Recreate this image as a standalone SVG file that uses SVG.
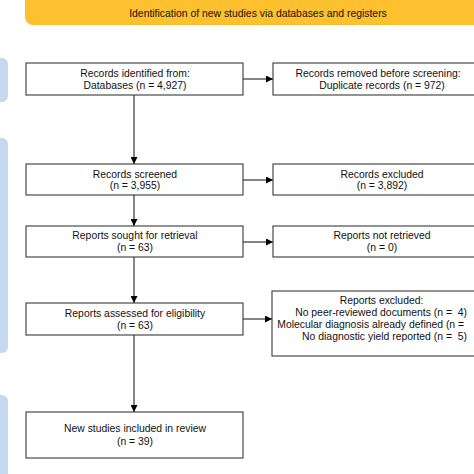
<svg xmlns="http://www.w3.org/2000/svg" width="474" height="474" viewBox="0 0 474 474">
<defs>
<style>
.box{fill:#fff;stroke:#3a3a3a;stroke-width:1.1}
.t{font-family:"Liberation Sans",Arial,sans-serif;font-size:10.4px;fill:#111;text-anchor:middle}
.te{font-family:"Liberation Sans",Arial,sans-serif;font-size:10.4px;fill:#111;text-anchor:end}
.c{stroke:#222;stroke-width:1.1;fill:none;marker-end:url(#ah)}
.side{fill:#c5d9f1}
</style>
<marker id="ah" viewBox="0 0 10 10" refX="10" refY="5" markerWidth="8" markerHeight="7" markerUnits="userSpaceOnUse" orient="auto">
<path d="M0,0 L10,5 L0,10 z" fill="#000"/>
</marker>
</defs>
<rect width="474" height="474" fill="#fff"/>
<g id="banner">
<rect x="25" y="-10" width="470" height="35" rx="8" fill="#fdc02e"/>
<text class="t" x="258" y="17">Identification of new studies via databases and registers</text>
</g>
<g id="sidebars">
<rect class="side" x="-10" y="58" width="18" height="44" rx="6"/>
<rect class="side" x="-10" y="138" width="18" height="215" rx="6"/>
<rect class="side" x="-10" y="395" width="18" height="89" rx="6"/>
</g>
<g id="connectors">
<line class="c" x1="134" y1="95" x2="134" y2="164"/>
<line class="c" x1="134" y1="195" x2="134" y2="226"/>
<line class="c" x1="134" y1="257" x2="134" y2="303"/>
<line class="c" x1="134" y1="335" x2="134" y2="412"/>
<line class="c" x1="243" y1="79" x2="273" y2="79"/>
<line class="c" x1="243" y1="180" x2="273" y2="180"/>
<line class="c" x1="243" y1="242" x2="273" y2="242"/>
<line class="c" x1="243" y1="319" x2="272" y2="319"/>
</g>
<g id="identified">
<rect class="box" x="26" y="63" width="217" height="32"/>
<text class="t" x="135" y="77">Records identified from:</text>
<text class="t" x="135" y="89">Databases (n = 4,927)</text>
</g>
<g id="removed">
<rect class="box" x="273" y="63" width="217" height="32"/>
<text class="t" x="378" y="77">Records removed before screening:</text>
<text class="t" x="382" y="89">Duplicate records (n = 972)</text>
</g>
<g id="screened">
<rect class="box" x="26" y="164" width="217" height="31"/>
<text class="t" x="135" y="177.5">Records screened</text>
<text class="t" x="135" y="189">(n = 3,955)</text>
</g>
<g id="excluded">
<rect class="box" x="273" y="164" width="217" height="31"/>
<text class="t" x="382" y="177.5">Records excluded</text>
<text class="t" x="382" y="189">(n = 3,892)</text>
</g>
<g id="sought">
<rect class="box" x="26" y="226" width="217" height="31"/>
<text class="t" x="135" y="239">Reports sought for retrieval</text>
<text class="t" x="135" y="251">(n = 63)</text>
</g>
<g id="notretrieved">
<rect class="box" x="273" y="226" width="217" height="31"/>
<text class="t" x="382" y="239">Reports not retrieved</text>
<text class="t" x="382" y="251">(n = 0)</text>
</g>
<g id="assessed">
<rect class="box" x="26" y="303" width="217" height="32"/>
<text class="t" x="135" y="317">Reports assessed for eligibility</text>
<text class="t" x="135" y="328.5">(n = 63)</text>
</g>
<g id="reportsexcluded">
<rect class="box" x="272" y="291" width="218" height="65"/>
<text class="t" x="381.5" y="304.2">Reports excluded:</text>
<text class="te" x="467" y="316.2" xml:space="preserve">No peer-reviewed documents (n =  4)</text>
<text class="te" x="467" y="328.2" xml:space="preserve">Molecular diagnosis already defined (n = </text>
<text class="te" x="467" y="340.2" xml:space="preserve">No diagnostic yield reported (n =  5)</text>
</g>
<g id="included">
<rect class="box" x="26" y="412" width="217" height="46"/>
<text class="t" x="135" y="432">New studies included in review</text>
<text class="t" x="135" y="444.5">(n = 39)</text>
</g>
</svg>
